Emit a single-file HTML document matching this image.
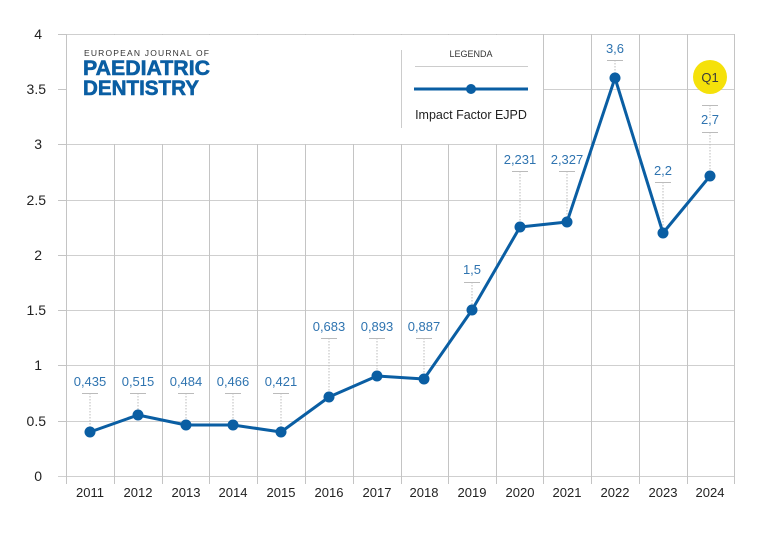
<!DOCTYPE html>
<html><head><meta charset="utf-8"><style>
html,body{margin:0;padding:0;background:#fff;}
svg{display:block;}
text{font-family:"Liberation Sans","DejaVu Sans",sans-serif;}
</style></head><body>
<svg width="768" height="543" viewBox="0 0 768 543" xmlns="http://www.w3.org/2000/svg">
<rect width="768" height="543" fill="#fff"/>
<g stroke="#cfcfcf" stroke-width="1">
<line x1="66" y1="34.5" x2="735" y2="34.5"/>
<line x1="66" y1="89.5" x2="735" y2="89.5"/>
<line x1="66" y1="144.5" x2="735" y2="144.5"/>
<line x1="66" y1="200.5" x2="735" y2="200.5"/>
<line x1="66" y1="255.5" x2="735" y2="255.5"/>
<line x1="66" y1="310.5" x2="735" y2="310.5"/>
<line x1="66" y1="365.5" x2="735" y2="365.5"/>
<line x1="66" y1="421.5" x2="735" y2="421.5"/>
<line x1="58" y1="476.5" x2="735" y2="476.5"/>
</g>
<g stroke="#c4c4c4" stroke-width="1">
<line x1="66.5" y1="34" x2="66.5" y2="484"/>
<line x1="114.5" y1="34" x2="114.5" y2="484"/>
<line x1="162.5" y1="34" x2="162.5" y2="484"/>
<line x1="209.5" y1="34" x2="209.5" y2="484"/>
<line x1="257.5" y1="34" x2="257.5" y2="484"/>
<line x1="305.5" y1="34" x2="305.5" y2="484"/>
<line x1="353.5" y1="34" x2="353.5" y2="484"/>
<line x1="401.5" y1="34" x2="401.5" y2="484"/>
<line x1="448.5" y1="34" x2="448.5" y2="484"/>
<line x1="496.5" y1="34" x2="496.5" y2="484"/>
<line x1="543.5" y1="34" x2="543.5" y2="484"/>
<line x1="591.5" y1="34" x2="591.5" y2="484"/>
<line x1="639.5" y1="34" x2="639.5" y2="484"/>
<line x1="687.5" y1="34" x2="687.5" y2="484"/>
<line x1="734.5" y1="34" x2="734.5" y2="484"/>
</g>
<g stroke="#c4c4c4"><line x1="58" y1="34.5" x2="66" y2="34.5"/><line x1="58" y1="89.5" x2="66" y2="89.5"/><line x1="58" y1="144.5" x2="66" y2="144.5"/><line x1="58" y1="200.5" x2="66" y2="200.5"/><line x1="58" y1="255.5" x2="66" y2="255.5"/><line x1="58" y1="310.5" x2="66" y2="310.5"/><line x1="58" y1="365.5" x2="66" y2="365.5"/><line x1="58" y1="421.5" x2="66" y2="421.5"/></g>
<rect x="67" y="35" width="476" height="109" fill="#fff"/>
<g font-size="14" fill="#222" text-anchor="end">
<text x="42" y="39">4</text><text x="46" y="94">3.5</text><text x="42" y="149">3</text><text x="46" y="205">2.5</text><text x="42" y="260">2</text><text x="46" y="315">1.5</text><text x="42" y="370">1</text><text x="46" y="426">0.5</text><text x="42" y="481">0</text>
</g>
<g font-size="13" fill="#222" text-anchor="middle">
<text x="90" y="497">2011</text><text x="138" y="497">2012</text><text x="186" y="497">2013</text><text x="233" y="497">2014</text><text x="281" y="497">2015</text><text x="329" y="497">2016</text><text x="377" y="497">2017</text><text x="424" y="497">2018</text><text x="472" y="497">2019</text><text x="520" y="497">2020</text><text x="567" y="497">2021</text><text x="615" y="497">2022</text><text x="663" y="497">2023</text><text x="710" y="497">2024</text>
</g>
<text x="84" y="56" font-size="8.5" fill="#333" textLength="125" lengthAdjust="spacing">EUROPEAN JOURNAL OF</text>
<text x="83" y="75" font-size="21" font-weight="bold" fill="#0a5ea3" textLength="127" lengthAdjust="spacingAndGlyphs" stroke="#0a5ea3" stroke-width="0.6">PAEDIATRIC</text>
<text x="83" y="95" font-size="21" font-weight="bold" fill="#0a5ea3" textLength="116" lengthAdjust="spacingAndGlyphs" stroke="#0a5ea3" stroke-width="0.6">DENTISTRY</text>
<line x1="401.5" y1="50" x2="401.5" y2="128" stroke="#ccc"/>
<text x="471" y="57" font-size="9" fill="#333" text-anchor="middle">LEGENDA</text>
<line x1="415" y1="66.5" x2="528" y2="66.5" stroke="#ccc"/>
<line x1="414" y1="89" x2="528" y2="89" stroke="#0a5ea3" stroke-width="3"/>
<circle cx="471" cy="89" r="5" fill="#0a5ea3"/>
<text x="471" y="119" font-size="12.5" fill="#222" text-anchor="middle">Impact Factor EJPD</text>
<g stroke="#bbb" stroke-width="1" stroke-dasharray="1.5,1.5" fill="none">
<path d="M90 393V432M138 393V415M186 393V425M233 393V425M281 393V432M329 338V397M377 338V376M424 338V379M472 282V310M520 171V227M567 171V222M615 60V78M663 182V233M710 105V118M710 132V176"/>
</g>
<g stroke="#bbb" stroke-width="1">
<path d="M82 393.5h16M130 393.5h16M178 393.5h16M225 393.5h16M273 393.5h16M321 338.5h16M369 338.5h16M416 338.5h16M464 282.5h16M512 171.5h16M559 171.5h16M607 60.5h16M655 182.5h16M702 105.5h16M702 132.5h16"/>
</g>
<g font-size="13" fill="#2f74b0" text-anchor="middle">
<text x="90" y="386">0,435</text><text x="138" y="386">0,515</text><text x="186" y="386">0,484</text><text x="233" y="386">0,466</text><text x="281" y="386">0,421</text>
<text x="329" y="331">0,683</text><text x="377" y="331">0,893</text><text x="424" y="331">0,887</text>
<text x="472" y="274">1,5</text><text x="520" y="164">2,231</text><text x="567" y="164">2,327</text>
<text x="615" y="53">3,6</text><text x="663" y="175">2,2</text><text x="710" y="124">2,7</text>
</g>
<circle cx="710" cy="77" r="17" fill="#f5e10a"/>
<text x="710" y="82" font-size="13" fill="#3a3a3a" text-anchor="middle">Q1</text>
<polyline fill="none" stroke="#0a5ea3" stroke-width="3" stroke-linejoin="round" points="90,432 138,415 186,425 233,425 281,432 329,397 377,376 424,379 472,310 520,227 567,222 615,78 663,233 710,176"/>
<g fill="#0a5ea3">
<circle cx="90" cy="432" r="5.5"/><circle cx="138" cy="415" r="5.5"/><circle cx="186" cy="425" r="5.5"/><circle cx="233" cy="425" r="5.5"/><circle cx="281" cy="432" r="5.5"/><circle cx="329" cy="397" r="5.5"/><circle cx="377" cy="376" r="5.5"/><circle cx="424" cy="379" r="5.5"/><circle cx="472" cy="310" r="5.5"/><circle cx="520" cy="227" r="5.5"/><circle cx="567" cy="222" r="5.5"/><circle cx="615" cy="78" r="5.5"/><circle cx="663" cy="233" r="5.5"/><circle cx="710" cy="176" r="5.5"/>
</g>
</svg>
</body></html>
